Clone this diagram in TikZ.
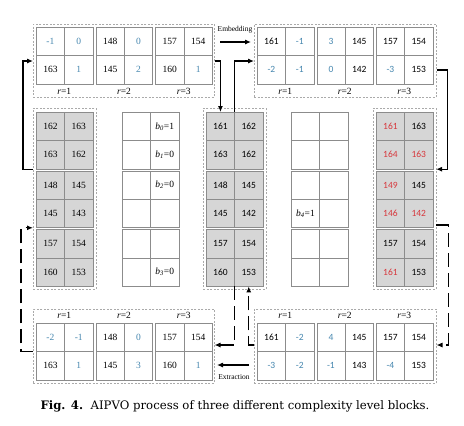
\documentclass[tikz,border=0pt]{standalone}
\usepackage{fontspec}
\setmainfont{Liberation Serif}
\newfontfamily\sansnum{Carlito}
\newfontfamily\capfont{DejaVu Serif}
\usetikzlibrary{arrows.meta,calc}
\definecolor{numblue}{RGB}{70,135,175}
\definecolor{numred}{RGB}{215,55,60}
\definecolor{cellgray}{RGB}{214,214,214}
\definecolor{lineg}{RGB}{140,140,140}
\definecolor{frameg}{RGB}{170,170,170}
\newcommand\B[1]{\textcolor{numblue}{#1}}
\newcommand\R[1]{\textcolor{numred}{#1}}
\newcommand\bitlab[2]{\textit{b}\textsubscript{\textit{#1}}=#2}
% name, x, y, style, a, b, c, d
\newcommand\quadcells[8]{%
  \node[#4] (#1a) at (#2,#3) {#5};
  \node[#4] (#1b) at (#2+28.3,#3) {#6};
  \node[#4] (#1c) at (#2,#3+28.3) {#7};
  \node[#4] (#1d) at (#2+28.3,#3+28.3) {#8};
}
\begin{document}
\begin{tikzpicture}[x=1pt,y=-1pt,
  cell/.style={draw=lineg, line width=0.6pt, minimum width=28.3pt, minimum height=28.3pt, inner sep=0pt, anchor=north west, font=\fontsize{9.5}{10}\selectfont},
  scell/.style={cell, font=\sansnum\fontsize{9.5}{10}\selectfont},
  gcell/.style={cell, fill=cellgray},
  gscell/.style={scell, fill=cellgray},
  grpframe/.style={draw=frameg, dash pattern=on 2pt off 1.5pt, line width=0.5pt, inner sep=0pt, anchor=north west},
  conn/.style={line width=1.1pt, -{Latex[length=6pt,width=5pt]}},
  dconn/.style={conn, dash pattern=on 14pt off 6pt},
  lab/.style={font=\fontsize{9.5}{10}\selectfont, inner sep=0pt},
  smalllab/.style={font=\fontsize{7.5}{8}\selectfont, inner sep=0pt}
]
\useasboundingbox (0,0) rectangle (464,426);
\fill[white] (0,0) rectangle (464,426);

% ---------- frames ----------
\node[grpframe, minimum width=181pt, minimum height=73pt] (ftl) at (33,24) {};
\node[grpframe, minimum width=182pt, minimum height=73pt] (ftr) at (254,24) {};
\node[grpframe, minimum width=181pt, minimum height=74pt] (fbl) at (33,309) {};
\node[grpframe, minimum width=182pt, minimum height=74pt] (fbr) at (254,309) {};
\node[grpframe, minimum width=62.6pt, minimum height=181pt] (fc1) at (33,108) {};
\node[grpframe, minimum width=62.6pt, minimum height=181pt] (fc3) at (203,108) {};
\node[grpframe, minimum width=62.6pt, minimum height=181pt] (fc5) at (373,108) {};

% ---------- top-left group ----------
\quadcells{tla}{36}{27}{cell}{\B{-1}}{\B{0}}{163}{\B{1}}
\quadcells{tlb}{95.7}{27}{cell}{148}{\B{0}}{145}{\B{2}}
\quadcells{tlc}{155.4}{27}{cell}{157}{154}{160}{\B{1}}
\node[lab] (rtl1) at (64.3,91) {\textit{r}=1};
\node[lab] (rtl2) at (124,91) {\textit{r}=2};
\node[lab] (rtl3) at (183.7,91) {\textit{r}=3};

% ---------- top-right group ----------
\quadcells{tra}{257}{27}{scell}{161}{\B{-1}}{\B{-2}}{\B{-1}}
\quadcells{trb}{316.5}{27}{scell}{\B{3}}{145}{\B{0}}{142}
\quadcells{trc}{376}{27}{scell}{157}{154}{\B{-3}}{153}
\node[lab] (rtr1) at (285.3,91) {\textit{r}=1};
\node[lab] (rtr2) at (344.8,91) {\textit{r}=2};
\node[lab] (rtr3) at (404.3,91) {\textit{r}=3};

% ---------- column 1 ----------
\quadcells{c1a}{36}{112}{gcell}{162}{163}{163}{162}
\quadcells{c1b}{36}{170.6}{gcell}{148}{145}{145}{143}
\quadcells{c1c}{36}{229.2}{gcell}{157}{154}{160}{153}

% ---------- column 2 ----------
\quadcells{c2a}{122}{112}{cell}{}{\bitlab{0}{1}}{}{\bitlab{1}{0}}
\quadcells{c2b}{122}{170.6}{cell}{}{\bitlab{2}{0}}{}{}
\quadcells{c2c}{122}{229.2}{cell}{}{}{}{\bitlab{3}{0}}

% ---------- column 3 ----------
\quadcells{c3a}{206}{112}{gscell}{161}{162}{163}{162}
\quadcells{c3b}{206}{170.6}{gscell}{148}{145}{145}{142}
\quadcells{c3c}{206}{229.2}{gscell}{157}{154}{160}{153}

% ---------- column 4 ----------
\quadcells{c4a}{291}{112}{cell}{}{}{}{}
\quadcells{c4b}{291}{170.6}{cell}{}{}{\bitlab{4}{1}}{}
\quadcells{c4c}{291}{229.2}{cell}{}{}{}{}

% ---------- column 5 ----------
\quadcells{c5a}{376}{112}{gscell}{\R{161}}{163}{\R{164}}{\R{163}}
\quadcells{c5b}{376}{170.6}{gscell}{\R{149}}{145}{\R{146}}{\R{142}}
\quadcells{c5c}{376}{229.2}{gscell}{157}{154}{\R{161}}{153}

% ---------- bottom-left group ----------
\node[lab] (rbl1) at (64.3,315) {\textit{r}=1};
\node[lab] (rbl2) at (124,315) {\textit{r}=2};
\node[lab] (rbl3) at (183.7,315) {\textit{r}=3};
\quadcells{bla}{36}{323}{cell}{\B{-2}}{\B{-1}}{163}{\B{1}}
\quadcells{blb}{95.7}{323}{cell}{148}{\B{0}}{145}{\B{3}}
\quadcells{blc}{155.4}{323}{cell}{157}{154}{160}{\B{1}}

% ---------- bottom-right group ----------
\node[lab] (rbr1) at (285.3,315) {\textit{r}=1};
\node[lab] (rbr2) at (344.8,315) {\textit{r}=2};
\node[lab] (rbr3) at (404.3,315) {\textit{r}=3};
\quadcells{bra}{257}{323}{scell}{161}{\B{-2}}{\B{-3}}{\B{-2}}
\quadcells{brb}{316.5}{323}{scell}{\B{4}}{145}{\B{-1}}{143}
\quadcells{brc}{376}{323}{scell}{157}{154}{\B{-4}}{153}

% ---------- helper coordinates ----------
\coordinate (ylow) at (0,61);
\coordinate (yright) at (0,70);
\coordinate (ymid) at (0,225);
\coordinate (ybot) at (0,345);
\coordinate (embA) at (220,42);
\coordinate (embB) at (251,42);
\coordinate (extA) at (249,365);
\coordinate (extB) at (217,365);

% ---------- connectors ----------
\node[smalllab] (emb) at (235,30) {Embedding};
\draw[conn] (embA) -- (embB);
\draw[conn] (ftl.east |- ylow) -| (c3aa.north);
\draw[conn] (c3aa.north east) |- (ftr.west |- ylow);
\draw[conn] (fc1.west |- c1ac.south west) -- ++(-10,0) |- (ftl.west |- ylow);
\draw[conn] (ftr.east |- yright) -- ++(11,0) |- (fc5.east |- c5ad.south east);
\draw[dconn] (fc5.east |- ymid) -- ++(12,0) |- (fbr.east |- ybot);
\draw[dconn] (fbr.west |- ybot) -| (c3cd.south);
\draw[dconn] (c3cc.south east) |- (fbl.east |- ybot);
\draw[dconn] (fbl.west |- blac.north west) -- ++(-12,0) |- (fc1.west |- c1bc.south west);
\draw[conn] (extA) -- (extB);
\node[smalllab] (ext) at (234,377) {Extraction};

% ---------- caption ----------
\node[inner sep=0pt, font=\capfont\fontsize{11.7}{13}\selectfont] (cap) at (235,406)
  {\textbf{Fig. 4.}\ \ AIPVO process of three different complexity level blocks.};
\end{tikzpicture}
\end{document}
